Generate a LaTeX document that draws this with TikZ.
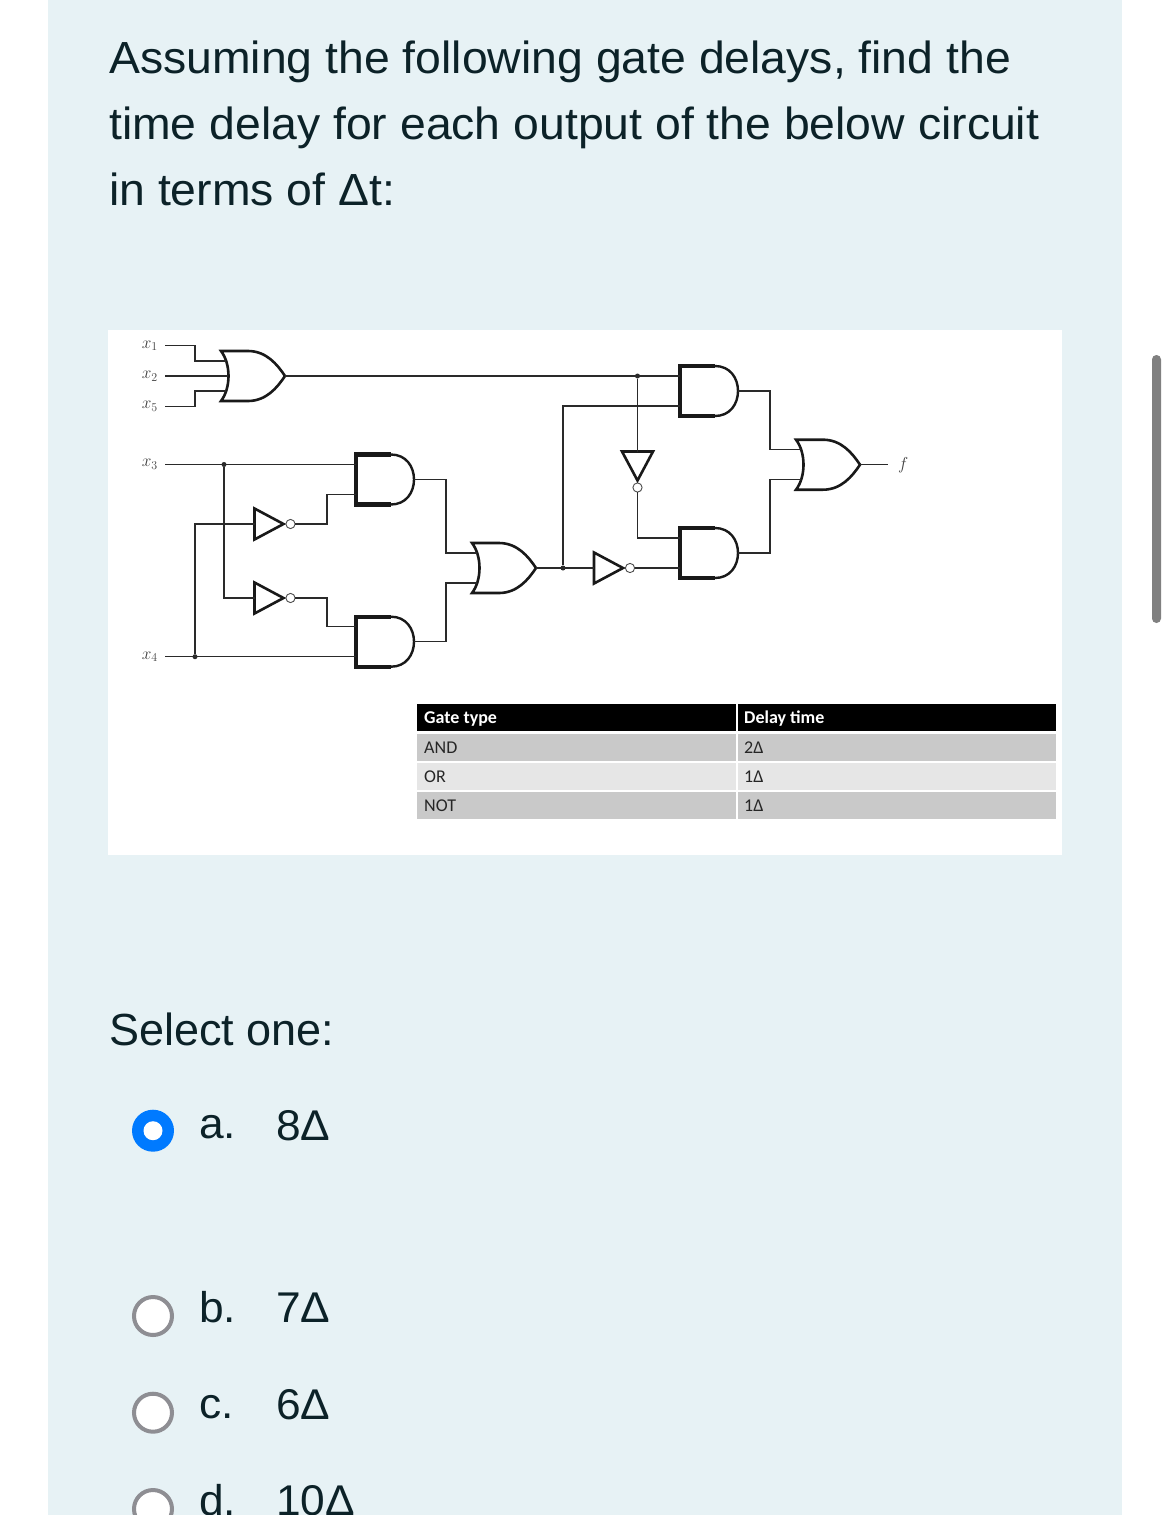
\documentclass[tikz,border=0pt]{standalone}
\usepackage{amsmath}
\usepackage{fontspec}
\setmainfont[FakeStretch=1.03]{Liberation Sans}
\newfontfamily\plainfont{Liberation Sans}
\newfontfamily\tablefont{Carlito}
\usetikzlibrary{arrows.meta, positioning}
\DeclareMathSizes{19}{19}{12.5}{10}

\definecolor{pagebg}{HTML}{E7F2F5}
\definecolor{inkcol}{HTML}{0C2228}
\definecolor{wirecol}{HTML}{2A2A2A}
\definecolor{radioblue}{HTML}{007AFF}
\definecolor{radiogrey}{HTML}{8E8E93}
\definecolor{rowdark}{HTML}{C9C9C9}
\definecolor{rowlight}{HTML}{E6E6E6}

\tikzset{
  wire/.style={draw=wirecol, line width=1.2pt},
  junct/.style={circle, fill=wirecol, inner sep=0pt, minimum size=5pt},
  siglabel/.style={inner sep=0pt, text=black!75, font=\fontsize{19}{21}\selectfont},
  prose/.style={anchor=base west, inner sep=0pt, text=inkcol, font=\fontsize{45}{50}\selectfont},
  choice/.style={anchor=base west, inner sep=0pt, text=inkcol, font=\fontsize{43}{48}\selectfont},
  radio/.style={circle, draw=radiogrey, line width=4pt, fill=white, inner sep=0pt, minimum size=38pt},
  cell/.style={anchor=base west, inner sep=0pt, font=\tablefont\fontsize{18}{20}\selectfont},
  andgate/.pic={
    \draw[line width=4.2pt, draw=black!90] (35,-25) -- (0,-25) -- (0,25) -- (35,25);
    \draw[line width=2.4pt, draw=black!90] (35,-25) .. controls (50,-25) and (58,-13) .. (58,0) .. controls (58,13) and (50,25) .. (35,25);
    \coordinate (-a) at (0,-15);
    \coordinate (-b) at (0,15);
    \coordinate (-out) at (58,0);
  },
  orgate/.pic={
    \draw[line width=2.6pt, draw=black!90, line join=miter] (0,-25) .. controls (10,-12) and (10,12) .. (0,25) -- (27,25)
      .. controls (45,25) and (56,12) .. (64,0) .. controls (56,-12) and (45,-25) .. (27,-25) -- cycle;
    \coordinate (-a) at (5,-15);
    \coordinate (-m) at (7,0);
    \coordinate (-b) at (5,15);
    \coordinate (-out) at (64,0);
  },
  notgate/.pic={
    \draw[line width=2.6pt, draw=black!90, line join=miter] (0,-15.5) -- (29,0) -- (0,15.5) -- cycle;
    \draw[line width=0.9pt, draw=black!70, fill=white] (36,0) circle (4.6);
    \coordinate (-in) at (0,0);
    \coordinate (-out) at (40.6,0);
  }
}

\begin{document}
\begin{tikzpicture}[x=1pt, y=-1pt]
\useasboundingbox (0,0) rectangle (1170,1515);
\clip (0,0) rectangle (1170,1515);
\fill[white] (0,0) rectangle (1170,1515);
\fill[pagebg] (48,0) rectangle (1122,1515);
\fill[white] (108,330) rectangle (1062,855);
\fill[black!50, rounded corners=4.4pt] (1152,355) rectangle (1161,623);

\node[prose] (line1) at (109,73) {Assuming the following gate delays, find the};
\node[prose] (line2) at (109,139) {time delay for each output of the below circuit};
\node[prose] (line3) at (109,205) {in terms of Δt:};

\node[siglabel, anchor=east, inner xsep=7pt] (x1) at (165,345.7) {$x_1$};
\node[siglabel, anchor=east, inner xsep=7pt] (x2) at (165,376) {$x_2$};
\node[siglabel, anchor=east, inner xsep=7pt] (x5) at (165,406.3) {$x_5$};
\node[siglabel, anchor=east, inner xsep=7pt] (x3) at (165,464.5) {$x_3$};
\node[siglabel, anchor=east, inner xsep=7pt] (x4) at (165,656.7) {$x_4$};

\pic (or1) at (221,376) {orgate};
\pic (or2) at (472,568) {orgate};
\pic (or3) at (796,464.7) {orgate};
\pic (and1) at (356,479.5) {andgate};
\pic (and2) at (356,641.7) {andgate};
\pic (and3) at (680,391) {andgate};
\pic (and4) at (680,553) {andgate};
\pic (not1) at (254.5,524) {notgate};
\pic (not2) at (254.5,598) {notgate};
\pic (not3) at (594,568) {notgate};
\pic[rotate=-90] (not4) at (637.5,451.5) {notgate};

\node[junct] (dotA) at (224,464.5) {};
\node[junct] (dotB) at (195,656.7) {};
\node[junct] (dotC) at (563,568) {};
\node[junct] (dotD) at (637.5,376) {};
\node[siglabel, anchor=west, inner xsep=10pt] (f) at (888,464.7) {$f$};

\coordinate (bendA) at (195,361);
\coordinate (bendB) at (195,391);
\coordinate (bendC) at (327,524);
\coordinate (bendD) at (327,598);
\coordinate (bendE) at (446,479.5);
\coordinate (bendF) at (446,641.7);
\coordinate (bendG) at (770,391);
\coordinate (bendH) at (770,553);

\draw[wire] (x1.east) -| (bendA) |- (or1-a);
\draw[wire] (x2.east) -- (or1-m);
\draw[wire] (x5.east) -| (bendB) |- (or1-b);
\draw[wire] (or1-out) -- (and3-a);
\draw[wire] (x3.east) -- (and1-a);
\draw[wire] (x4.east) -- (and2-b);
\draw[wire] (dotA) |- (not2-in);
\draw[wire] (dotB) |- (not1-in);
\draw[wire] (not1-out) -- (bendC) |- (and1-b);
\draw[wire] (not2-out) -- (bendD) |- (and2-a);
\draw[wire] (and1-out) -- (bendE) |- (or2-a);
\draw[wire] (and2-out) -- (bendF) |- (or2-b);
\draw[wire] (or2-out) -- (not3-in);
\draw[wire] (not3-out) -- (and4-b);
\draw[wire] (dotC) |- (and3-b);
\draw[wire] (dotD) -- (not4-in);
\draw[wire] (not4-out) |- (and4-a);
\draw[wire] (and3-out) -- (bendG) |- (or3-a);
\draw[wire] (and4-out) -- (bendH) |- (or3-b);
\draw[wire] (or3-out) -- (f.west);

\foreach \n/\ytop/\rowfill/\txtcol/\first/\second in {
    head/704/black/white/\textbf{Gate type}/\textbf{Delay time},
    rowA/734/rowdark/black!85/AND/2Δ,
    rowB/763/rowlight/black!85/OR/1Δ,
    rowC/792/rowdark/black!85/NOT/1Δ} {
  \fill[\rowfill] (417,\ytop) rectangle (736,\ytop+27);
  \fill[\rowfill] (738,\ytop) rectangle (1056,\ytop+27);
  \node[cell, text=\txtcol] (\n L) at (424,\ytop+19.5) {\first};
  \node[cell, text=\txtcol] (\n R) at (744,\ytop+19.5) {\second};
}

\node[prose, font=\plainfont\fontsize{45}{50}\selectfont] (select) at (109,1045) {Select one:};

\node[circle, fill=radioblue, minimum size=42pt, inner sep=0pt] (radioA) at (153,1130.7) {};
\node[circle, fill=white, minimum size=19pt, inner sep=0pt] (radioAdot) at (radioA.center) {};
\node[radio] (radioB) at (153,1316) {};
\node[radio] (radioC) at (153,1412.7) {};
\node[radio] (radioD) at (153,1509) {};

\node[choice] (letA) at (199,1138) {a.};
\node[choice] (valA) at (276,1140) {8Δ};
\node[choice] (letB) at (199,1322) {b.};
\node[choice] (valB) at (276,1322) {7Δ};
\node[choice] (letC) at (199,1418) {c.};
\node[choice] (valC) at (276,1419) {6Δ};
\node[choice] (letD) at (199,1515) {d.};
\node[choice] (valD) at (276,1515) {10Δ};
\end{tikzpicture}
\end{document}
